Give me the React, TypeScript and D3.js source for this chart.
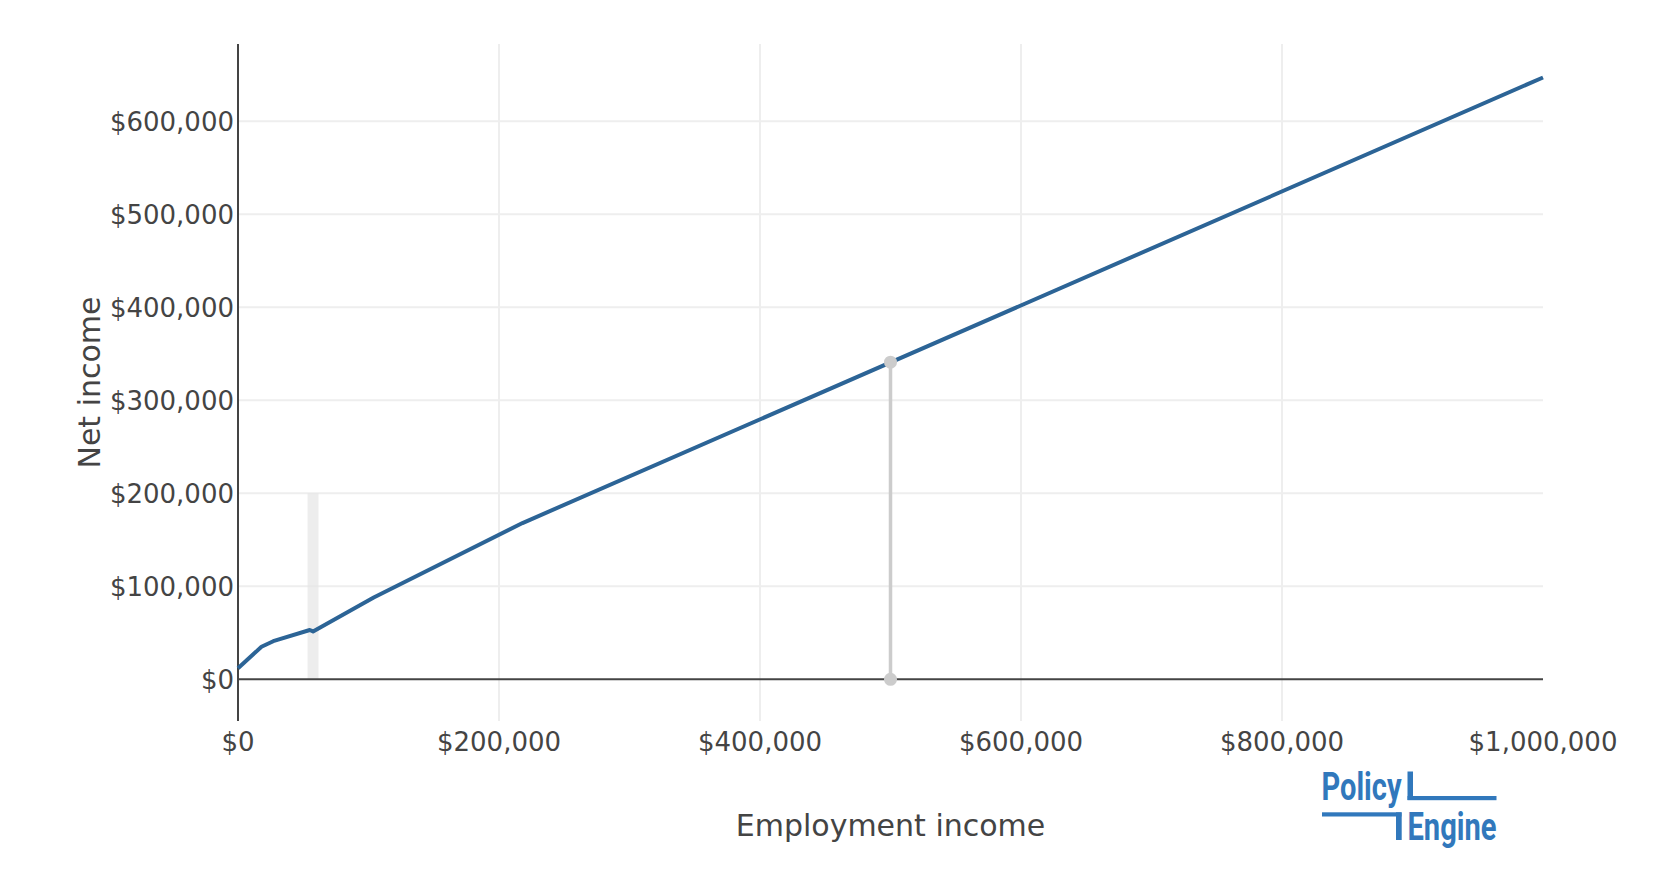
import React, { useEffect, useRef } from 'react';
import * as d3 from 'd3';

// employment income vs net income
const incomes = [0, 18000, 27000, 55000, 57500, 104000, 218000, 1000000];
const netIncomes = [12000, 35000, 41000, 53000, 51500, 88000, 168000, 647000];

const xTicks = [0, 200000, 400000, 600000, 800000, 1000000];
const yTicks = [0, 100000, 200000, 300000, 400000, 500000, 600000];

// shaded band and the highlighted household
const bandIncome = 57500;
const bandTop = 200000;
const markerIncome = 500000;
const markerNet = 341000;

const W = 1670;
const H = 878;
const FONT = '"DejaVu Sans", Verdana, sans-serif';
const TEXT = '#444';
const BLUE = '#2C6496';
const LOGO = '#3178BC';

const App: React.FC = () => {
  const svgRef = useRef<SVGSVGElement>(null);

  useEffect(() => {
    if (!svgRef.current) return;
    const svg = d3.select(svgRef.current);
    svg.selectAll('*').remove();

    const plot = { left: 238, right: 1543, top: 44, bottom: 721 };
    const x = d3.scaleLinear().domain([0, 1000000]).range([plot.left, plot.right]);
    const y = d3.scaleLinear().domain([-44800, 683000]).range([plot.bottom, plot.top]);
    const fmt = d3.format('$,');

    // grid
    const grid = svg.append('g');
    grid
      .selectAll('line.gx')
      .data(xTicks.filter((t) => t > 0 && t < 1000000))
      .join('line')
      .attr('x1', (d) => x(d))
      .attr('x2', (d) => x(d))
      .attr('y1', plot.top)
      .attr('y2', plot.bottom)
      .attr('stroke', '#eee')
      .attr('stroke-width', 2);
    grid
      .selectAll('line.gy')
      .data(yTicks.filter((t) => t > 0))
      .join('line')
      .attr('x1', plot.left)
      .attr('x2', plot.right)
      .attr('y1', (d) => y(d))
      .attr('y2', (d) => y(d))
      .attr('stroke', '#eee')
      .attr('stroke-width', 2);

    // light band
    svg
      .append('line')
      .attr('x1', x(bandIncome))
      .attr('x2', x(bandIncome))
      .attr('y1', y(0))
      .attr('y2', y(bandTop))
      .attr('stroke', '#e6e6e6')
      .attr('stroke-opacity', 0.7)
      .attr('stroke-width', 11);

    // zero lines
    svg
      .append('line')
      .attr('x1', x(0))
      .attr('x2', x(0))
      .attr('y1', plot.top)
      .attr('y2', plot.bottom)
      .attr('stroke', TEXT)
      .attr('stroke-width', 2);
    svg
      .append('line')
      .attr('x1', plot.left)
      .attr('x2', plot.right)
      .attr('y1', y(0))
      .attr('y2', y(0))
      .attr('stroke', TEXT)
      .attr('stroke-width', 2);

    // net income curve
    const line = d3
      .line<number>()
      .x((d) => x(d))
      .y((_, i) => y(netIncomes[i]));
    svg
      .append('path')
      .attr('d', line(incomes))
      .attr('fill', 'none')
      .attr('stroke', BLUE)
      .attr('stroke-width', 4)
      .attr('stroke-linejoin', 'round');

    // marker
    svg
      .append('line')
      .attr('x1', x(markerIncome))
      .attr('x2', x(markerIncome))
      .attr('y1', y(0))
      .attr('y2', y(markerNet))
      .attr('stroke', '#ccc')
      .attr('stroke-width', 3.5);
    svg
      .selectAll('circle.m')
      .data([0, markerNet])
      .join('circle')
      .attr('cx', x(markerIncome))
      .attr('cy', (d) => y(d))
      .attr('r', 6.5)
      .attr('fill', '#ccc');

    // tick labels
    svg
      .append('g')
      .selectAll('text')
      .data(yTicks)
      .join('text')
      .attr('x', plot.left - 4)
      .attr('y', (d) => y(d))
      .attr('dy', '0.36em')
      .attr('text-anchor', 'end')
      .attr('font-family', FONT)
      .attr('font-size', 26)
      .attr('fill', TEXT)
      .text((d) => fmt(d));
    svg
      .append('g')
      .selectAll('text')
      .data(xTicks)
      .join('text')
      .attr('x', (d) => x(d))
      .attr('y', 751)
      .attr('text-anchor', 'middle')
      .attr('font-family', FONT)
      .attr('font-size', 26)
      .attr('fill', TEXT)
      .text((d) => fmt(d));

    // axis titles
    svg
      .append('text')
      .attr('x', (plot.left + plot.right) / 2)
      .attr('y', 836)
      .attr('text-anchor', 'middle')
      .attr('font-family', FONT)
      .attr('font-size', 30)
      .attr('fill', TEXT)
      .text('Employment income');
    svg
      .append('text')
      .attr('transform', `translate(100,${(plot.top + plot.bottom) / 2}) rotate(-90)`)
      .attr('text-anchor', 'middle')
      .attr('font-family', FONT)
      .attr('font-size', 30)
      .attr('fill', TEXT)
      .text('Net income');

    // PolicyEngine logo
    const logo = svg.append('g').attr('fill', LOGO);
    logo
      .append('text')
      .attr('x', 1321.5)
      .attr('y', 800)
      .attr('font-family', 'Roboto, sans-serif')
      .attr('font-weight', 700)
      .attr('font-size', 38)
      .attr('textLength', 80)
      .attr('lengthAdjust', 'spacingAndGlyphs')
      .text('Policy');
    logo.append('rect').attr('x', 1407.5).attr('y', 771.5).attr('width', 5.5).attr('height', 28.5);
    logo.append('rect').attr('x', 1407.5).attr('y', 796).attr('width', 89).attr('height', 4.2);
    logo.append('rect').attr('x', 1322).attr('y', 812.3).attr('width', 79.5).attr('height', 4.2);
    logo.append('rect').attr('x', 1396).attr('y', 812.3).attr('width', 5.7).attr('height', 27.7);
    logo
      .append('text')
      .attr('x', 1407.5)
      .attr('y', 840)
      .attr('font-family', 'Roboto, sans-serif')
      .attr('font-weight', 700)
      .attr('font-size', 38)
      .attr('textLength', 89)
      .attr('lengthAdjust', 'spacingAndGlyphs')
      .text('Engine');
  }, []);

  return (
    <svg
      ref={svgRef}
      width={W}
      height={H}
      style={{ position: 'absolute', left: 0, top: 0, background: '#fff' }}
      role="img"
      aria-label="Net income by employment income"
    />
  );
};

export default App;
